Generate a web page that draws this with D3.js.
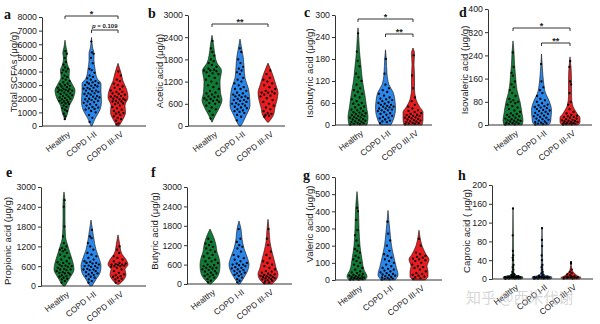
<!DOCTYPE html>
<html>
<head>
<meta charset="utf-8">
<style>
  body { margin: 0; background: #fff; }
  text { font-family: Arial, "Liberation Sans", sans-serif; }
</style>
</head>
<body>
<script src="https://cdn.jsdelivr.net/npm/d3@7"></script>
<script>
// groups and colours shared by every panel
var groups = ["Healthy", "COPD I-II", "COPD III-IV"];
var fills = ["#137a36", "#2a86e8", "#e81d20"];

// ---- a: total SCFAs
var totalPts = [
  [500, 700, 900, 1100, 1200, 1300, 1400, 1500, 1600, 1650, 1700, 1750, 1800, 1850, 1900, 1950, 2000, 2050, 2100, 2150, 2200, 2250, 2300, 2350, 2400, 2450, 2500, 2550, 2600, 2600, 2650, 2650, 2700, 2750, 2800, 2850, 2900, 2950, 3000, 3050, 3100, 3200, 3300, 3400, 3500, 3600, 3700, 3900, 4000, 4100, 4200, 4300, 4500, 4700, 5000, 5300, 5500],
  [300, 600, 800, 1000, 1100, 1200, 1250, 1300, 1350, 1400, 1500, 1550, 1600, 1700, 1750, 1800, 1850, 1900, 1950, 2000, 2000, 2100, 2150, 2200, 2200, 2300, 2350, 2400, 2400, 2500, 2550, 2600, 2600, 2700, 2750, 2800, 2800, 2900, 2950, 3000, 3000, 3100, 3150, 3200, 3200, 3300, 3400, 3500, 3600, 3700, 3900, 4100, 4200, 4600, 5000, 5300, 5400, 6200],
  [100, 200, 400, 500, 600, 700, 800, 900, 950, 1000, 1100, 1200, 1300, 1400, 1500, 1600, 1650, 1700, 1800, 1800, 1850, 1900, 1950, 2000, 2000, 2100, 2150, 2200, 2200, 2300, 2350, 2400, 2500, 2500, 2600, 2700, 2800, 2900, 3000, 3100, 3300, 3400, 3700, 4000]
];
var totalShape = [
  [[450,0],[900,0.25],[1500,0.45],[2000,0.8],[2600,1],[3100,0.7],[3600,0.4],[4100,0.45],[4500,0.25],[5000,0.15],[5350,0.22],[5800,0.1],[6300,0]],
  [[0,0.05],[600,0.4],[1200,0.85],[1800,1],[2500,0.95],[3100,0.95],[3500,0.55],[4200,0.35],[4800,0.25],[5300,0.25],[5800,0.1],[6500,0]],
  [[0,0.1],[500,0.5],[1000,0.75],[1500,0.7],[2100,1],[2700,0.85],[3300,0.5],[3900,0.3],[4600,0]]
];

// ---- b: acetic acid
var aceticPts = [
  [200, 300, 400, 450, 500, 550, 600, 620, 650, 680, 700, 700, 730, 750, 780, 800, 800, 850, 880, 900, 950, 1000, 1050, 1100, 1150, 1200, 1250, 1300, 1350, 1400, 1420, 1450, 1480, 1500, 1500, 1520, 1550, 1600, 1650, 1700, 1750, 1800, 1900, 2000, 2100, 2300],
  [150, 250, 300, 350, 380, 400, 420, 450, 480, 500, 520, 550, 580, 600, 600, 620, 650, 680, 700, 700, 730, 750, 780, 800, 800, 830, 850, 880, 900, 950, 1000, 1000, 1050, 1100, 1150, 1200, 1250, 1300, 1400, 1450, 1500, 1550, 1600, 1700, 1800, 2000, 2100],
  [250, 280, 300, 330, 350, 400, 450, 500, 550, 600, 650, 700, 750, 800, 820, 850, 880, 900, 900, 930, 950, 1000, 1050, 1100, 1150, 1200, 1250, 1300, 1400, 1500]
];
var aceticShape = [
  [[100,0],[300,0.35],[500,0.75],[700,1],[900,0.85],[1200,0.8],[1500,0.95],[1700,0.5],[1900,0.3],[2200,0.15],[2450,0]],
  [[0,0.1],[300,0.65],[550,1],[800,0.95],[1000,0.85],[1300,0.5],[1600,0.4],[1800,0.35],[2050,0.2],[2350,0]],
  [[100,0.05],[300,0.55],[500,0.7],[700,0.9],[900,1],[1100,0.8],[1400,0.45],[1700,0]]
];

// ---- c: isobutyric acid
var isobutPts = [
  [1, 2, 3, 5, 6, 8, 9, 10, 12, 13, 15, 16, 18, 20, 21, 22, 24, 25, 27, 28, 30, 32, 34, 35, 38, 40, 42, 45, 48, 50, 55, 58, 60, 65, 70, 75, 80, 85, 90, 95, 100, 110, 120, 130, 140, 160, 175, 200, 250],
  [5, 8, 10, 12, 15, 18, 20, 22, 25, 28, 30, 32, 35, 38, 40, 40, 42, 45, 45, 48, 50, 50, 52, 55, 55, 58, 60, 62, 65, 68, 70, 72, 75, 80, 85, 90, 95, 100, 110, 140, 180],
  [2, 3, 4, 5, 6, 8, 9, 10, 12, 13, 15, 16, 18, 20, 21, 22, 24, 25, 27, 28, 30, 32, 35, 38, 40, 45, 50, 55, 65, 75, 100, 135, 190]
];
var isobutShape = [
  [[0,0.9],[20,1],[50,0.85],[80,0.7],[120,0.45],[160,0.3],[200,0.15],[240,0.07],[265,0]],
  [[0,0.55],[20,0.85],[45,1],[65,0.95],[90,0.75],[110,0.35],[140,0.15],[180,0.08],[205,0]],
  [[0,0.9],[15,1],[35,1],[50,0.65],[70,0.3],[100,0.15],[135,0.15],[165,0.1],[195,0.15],[210,0]]
];

// ---- d: isovaleric acid
var isovalPts = [
  [1, 2, 4, 5, 7, 8, 10, 12, 14, 15, 17, 18, 20, 22, 25, 28, 30, 33, 35, 38, 40, 45, 50, 55, 60, 65, 70, 75, 80, 80, 85, 90, 100, 110, 120, 130, 140, 150, 170, 180, 200, 250],
  [2, 3, 5, 6, 8, 10, 12, 15, 18, 20, 22, 25, 28, 30, 32, 35, 38, 40, 42, 45, 48, 50, 52, 55, 58, 60, 62, 65, 68, 70, 75, 80, 85, 90, 100, 110, 120, 130, 150, 210],
  [1, 2, 3, 4, 5, 6, 7, 8, 10, 11, 12, 14, 15, 16, 18, 20, 22, 25, 27, 28, 30, 32, 35, 40, 45, 55, 70, 80, 110, 140, 150, 200, 220]
];
var isovalShape = [
  [[0,0.9],[15,1],[40,0.9],[80,0.7],[120,0.4],[170,0.25],[210,0.15],[250,0.1],[290,0]],
  [[0,0.7],[10,0.9],[25,0.95],[50,1],[80,0.8],[110,0.4],[150,0.2],[200,0.08],[245,0]],
  [[0,0.8],[10,1],[25,1],[40,0.7],[70,0.25],[100,0.15],[150,0.15],[200,0.1],[235,0]]
];

// ---- e: propionic acid
var propPts = [
  [100, 150, 200, 220, 250, 280, 300, 320, 350, 380, 400, 400, 420, 450, 480, 500, 500, 520, 550, 580, 600, 600, 620, 650, 680, 700, 720, 750, 800, 850, 900, 950, 1000, 1050, 1100, 1100, 1150, 1200, 1300, 1500, 1800, 2400, 2600],
  [100, 150, 200, 250, 280, 300, 330, 350, 380, 400, 420, 450, 480, 500, 500, 520, 550, 580, 600, 600, 620, 650, 680, 700, 700, 730, 750, 800, 850, 900, 950, 1000, 1100, 1200, 1300, 1450, 1500, 1700],
  [100, 150, 200, 220, 250, 280, 300, 330, 350, 400, 450, 500, 550, 580, 600, 600, 620, 640, 650, 650, 660, 680, 700, 750, 800, 850, 900, 1000, 1100, 1200]
];
var propShape = [
  [[0,0.1],[100,0.3],[300,0.7],[500,1],[700,0.9],[1000,0.6],[1200,0.4],[1500,0.15],[2000,0.1],[2500,0.1],[2850,0]],
  [[0,0.1],[200,0.5],[400,0.9],[600,1],[800,0.85],[1100,0.5],[1400,0.3],[1700,0.15],[2000,0]],
  [[50,0.1],[200,0.6],[350,0.8],[500,0.7],[650,1],[800,0.8],[1000,0.35],[1300,0.15],[1550,0]]
];

// ---- f: butyric acid
var butPts = [
  [50, 100, 150, 200, 230, 250, 280, 300, 330, 350, 380, 400, 430, 450, 480, 500, 500, 530, 550, 580, 600, 650, 700, 700, 750, 800, 850, 900, 950, 1000, 1050, 1100, 1150, 1200, 1250, 1300, 1400],
  [50, 100, 150, 200, 250, 280, 300, 330, 350, 380, 400, 430, 450, 480, 500, 520, 550, 580, 600, 600, 630, 650, 700, 750, 800, 850, 900, 1000, 1100, 1150, 1200, 1300, 1400, 1700],
  [20, 50, 80, 100, 120, 140, 150, 170, 180, 200, 210, 220, 240, 250, 270, 280, 300, 320, 350, 380, 400, 450, 500, 550, 600, 650, 700, 800, 900, 1000, 1200, 1400, 1700]
];
var butShape = [
  [[0,0.1],[200,0.7],[400,0.95],[600,1],[800,0.9],[1000,0.7],[1200,0.6],[1500,0.3],[1700,0]],
  [[0,0.1],[200,0.5],[400,0.85],[600,1],[800,0.85],[1100,0.5],[1400,0.3],[1700,0.2],[1950,0]],
  [[0,0.4],[150,0.85],[300,1],[500,0.8],[700,0.65],[1000,0.4],[1300,0.2],[1700,0.1],[2000,0]]
];

// ---- g: valeric acid
var valPts = [
  [1, 2, 3, 5, 6, 8, 10, 12, 14, 15, 18, 20, 22, 25, 28, 30, 35, 40, 45, 50, 60, 70, 80, 90, 100, 110, 120, 130, 140, 160, 170, 180, 200, 230, 260, 290, 350, 400, 420],
  [2, 4, 6, 8, 12, 15, 18, 22, 25, 28, 32, 35, 40, 45, 50, 55, 60, 65, 70, 80, 90, 100, 110, 120, 130, 140, 150, 170, 200, 230, 270, 340],
  [5, 10, 15, 20, 25, 30, 35, 40, 50, 60, 70, 75, 80, 90, 100, 110, 115, 120, 125, 130, 135, 140, 150, 160, 200, 240]
];
var valShape = [
  [[0,0.8],[20,1],[60,0.7],[120,0.5],[200,0.3],[300,0.2],[400,0.15],[450,0.1],[515,0]],
  [[0,0.7],[30,1],[80,0.8],[130,0.6],[200,0.35],[280,0.2],[350,0.08],[405,0]],
  [[0,0.6],[20,0.9],[50,0.9],[80,0.8],[120,1],[150,0.7],[200,0.3],[250,0.1],[290,0]]
];

// ---- h: caproic acid
var caproPts = [
  [0.5, 1, 1, 1.5, 2, 2, 2, 2.5, 3, 3, 3, 3, 3.5, 4, 4, 4, 4, 5, 5, 5, 6, 6, 7, 8, 10, 12, 15, 20, 25, 30, 40, 45, 50, 60, 93, 150],
  [0.5, 1, 1, 1.5, 2, 2, 2.5, 3, 3, 3, 3.5, 4, 4, 4, 4.5, 5, 5, 6, 7, 9, 12, 15, 20, 25, 30, 40, 50, 70, 83, 108],
  [1, 1, 2, 2, 3, 3, 3, 4, 4, 5, 5, 6, 8, 10, 12, 15, 20, 33, 36]
];
var caproShape = [
  [[0,0.9],[4,1],[8,0.3],[15,0.08],[50,0.05],[100,0.03],[150,0]],
  [[0,0.9],[4,1],[8,0.3],[15,0.08],[50,0.05],[80,0.03],[108,0]],
  [[0,0.8],[3,1],[6,0.7],[12,0.35],[20,0.1],[36,0]]
];

var letters = ["a", "b", "c", "d", "e", "f", "g", "h"];
var yTitles = ["Total SCFAs (μg/g)", "Acetic acid (μg/g)", "Isobutyric acid (μg/g)", "Isovaleric acid (μg/g)",
               "Propionic acid (μg/g)", "Butyric acid (μg/g)", "Valeric acid (μg/g)", "Caproic acid ( μg/g)"];
var yMax = [8000, 3000, 300, 400, 3000, 3000, 600, 200];
var yStep = [1000, 600, 60, 80, 600, 600, 100, 40];
var allPts = [totalPts, aceticPts, isobutPts, isovalPts, propPts, butPts, valPts, caproPts];
var allShapes = [totalShape, aceticShape, isobutShape, isovalShape, propShape, butShape, valShape, caproShape];
// significance brackets: [from group, to group, label]
var brackets = [
  [[0, 2, "*"], [1, 2, "p = 0.109"]],
  [[0, 2, "**"]],
  [[0, 2, "*"], [1, 2, "**"]],
  [[0, 2, "*"], [1, 2, "**"]],
  [], [], [], []
];

// panel placement in pixels
var layout = [
  {ax:42,  c0:65,  c2:118, end:146, top:17,  bot:126, lx:14,  ly:72,  tx:4,   ty:19,  br:[16, 30]},
  {ax:188, c0:212, c2:268, end:285, top:15,  bot:126, lx:160, ly:71,  tx:148, ty:18,  br:[24]},
  {ax:335, c0:358, c2:413, end:432, top:15,  bot:125, lx:310, ly:73,  tx:304, ty:17,  br:[19, 34]},
  {ax:488, c0:513, c2:570, end:592, top:9,   bot:125, lx:465, ly:70,  tx:459, ty:17,  br:[28, 43]},
  {ax:41,  c0:64,  c2:118, end:146, top:187, bot:286, lx:8,   ly:241, tx:6,   ty:177, br:[]},
  {ax:187, c0:210, c2:268, end:292, top:187, bot:284, lx:155, ly:231, tx:151, ty:177, br:[]},
  {ax:335, c0:357, c2:419, end:442, top:177, bot:280, lx:310, ly:224, tx:303, ty:180, br:[]},
  {ax:492, c0:513, c2:571, end:593, top:185, bot:279, lx:467, ly:231, tx:458, ty:180, br:[]}
];

var halfW = 10;

var svg = d3.select("body").append("svg")
    .attr("width", 600)
    .attr("height", 324);

// linear lookup of relative violin width at value v
function widthAt(shape, v) {
  if (v <= shape[0][0]) return shape[0][1];
  for (var i = 1; i < shape.length; i++) {
    if (v <= shape[i][0]) {
      var a = shape[i - 1], b = shape[i];
      var t = (v - a[0]) / (b[0] - a[0]);
      return a[1] + t * (b[1] - a[1]);
    }
  }
  return 0;
}

layout.forEach(function(L, p) {
  var g = svg.append("g");
  var y = d3.scaleLinear().domain([0, yMax[p]]).range([L.bot, L.top]);
  var x = d3.scalePoint().domain(groups).range([L.c0, L.c2]);

  // violins
  allShapes[p].forEach(function(shape, k) {
    var cx = x(groups[k]);
    var area = d3.area()
        .y(function(d) { return y(d[0]); })
        .x0(function(d) { return cx - halfW * d[1]; })
        .x1(function(d) { return cx + halfW * d[1]; })
        .curve(d3.curveMonotoneY);
    g.append("path")
        .datum(shape)
        .attr("d", area)
        .attr("fill", fills[k])
        .attr("stroke", "#111")
        .attr("stroke-width", 0.6);
  });

  // data points spread inside each violin
  allPts[p].forEach(function(vals, k) {
    var cx = x(groups[k]);
    var shape = allShapes[p][k];
    g.selectAll(null)
        .data(vals)
        .enter()
        .append("circle")
        .attr("cx", function(d, i) {
          var f = ((i * 0.618034) % 1) * 2 - 1;
          return cx + f * halfW * widthAt(shape, d) * 0.85;
        })
        .attr("cy", function(d) { return y(d); })
        .attr("r", 1.15)
        .attr("fill", "#000");
  });

  // y axis
  var ticks = d3.range(0, yMax[p] + 1, yStep[p]);
  var yAxis = g.append("g")
      .attr("transform", "translate(" + L.ax + ",0)")
      .call(d3.axisLeft(y).tickValues(ticks).tickFormat(d3.format("d"))
            .tickSize(3).tickSizeOuter(0).tickPadding(2));
  yAxis.select(".domain").attr("stroke", "#333");
  yAxis.selectAll(".tick line").attr("stroke", "#333");
  yAxis.selectAll(".tick text")
      .attr("fill", "#222")
      .style("font-size", "8.8px")
      .style("font-family", "Arial, 'Liberation Sans', sans-serif");

  // x axis baseline
  g.append("line")
      .attr("x1", L.ax).attr("x2", L.end)
      .attr("y1", L.bot).attr("y2", L.bot)
      .attr("stroke", "#333").attr("stroke-width", 1);

  // rotated group labels
  groups.forEach(function(name) {
    g.append("text")
        .attr("transform", "translate(" + (x(name) + 4) + "," + (L.bot + 7) + ") rotate(-38)")
        .attr("text-anchor", "end")
        .attr("dy", "0.35em")
        .style("font-size", "8.3px")
        .attr("fill", "#222")
        .text(name);
  });

  // y title
  g.append("text")
      .attr("transform", "translate(" + L.lx + "," + L.ly + ") rotate(-90)")
      .attr("text-anchor", "middle")
      .attr("dy", "0.35em")
      .style("font-size", "9.6px")
      .attr("fill", "#222")
      .text(yTitles[p]);

  // panel letter
  g.append("text")
      .attr("x", L.tx).attr("y", L.ty)
      .style("font-family", "'Liberation Serif', 'DejaVu Serif', serif")
      .style("font-size", "14px")
      .style("font-weight", "bold")
      .attr("fill", "#111")
      .text(letters[p]);

  // significance brackets
  brackets[p].forEach(function(b, j) {
    var x1 = x(groups[b[0]]), x2 = x(groups[b[1]]), yy = L.br[j];
    g.append("path")
        .attr("d", "M" + x1 + "," + (yy + 3) + "V" + yy + "H" + x2 + "V" + (yy + 3))
        .attr("fill", "none")
        .attr("stroke", "#333")
        .attr("stroke-width", 1);
    var t = g.append("text")
        .attr("x", (x1 + x2) / 2)
        .attr("y", yy - 2)
        .attr("text-anchor", "middle")
        .attr("fill", "#222");
    if (b[2].charAt(0) === "p") {
      t.style("font-size", "6px").style("font-weight", "bold");
      t.append("tspan").style("font-style", "italic").text("p");
      t.append("tspan").text(b[2].slice(1));
    } else {
      t.style("font-size", "9px").style("font-weight", "bold").attr("y", yy + 1).text(b[2]);
    }
  });
});

// watermark
svg.append("text")
    .attr("x", 466)
    .attr("y", 303)
    .style("font-family", "'Noto Sans CJK SC', sans-serif")
    .style("font-size", "15px")
    .attr("fill", "#bbb")
    .attr("fill-opacity", 0.6)
    .text("知乎 @西米代谢");
</script>
</body>
</html>
